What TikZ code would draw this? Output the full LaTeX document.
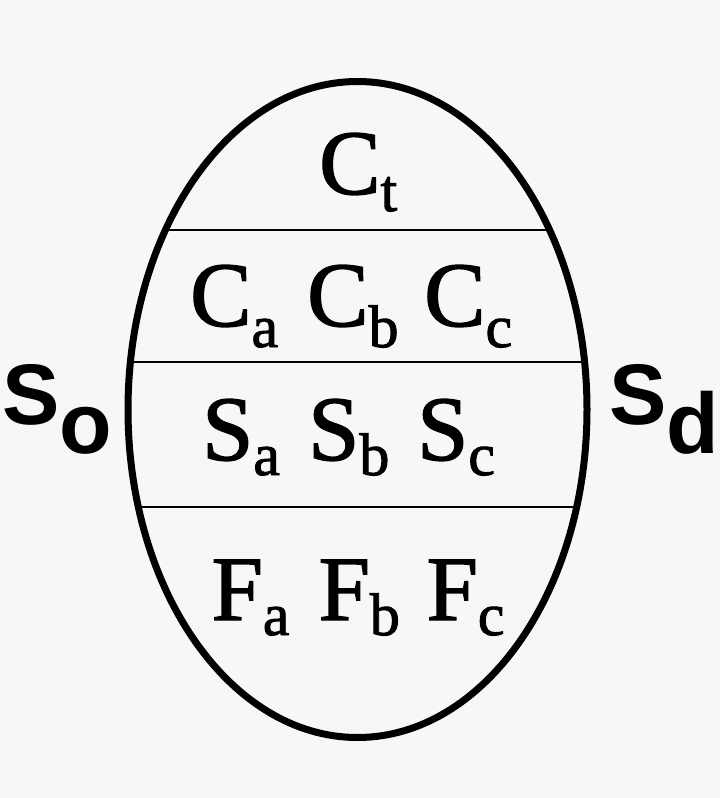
\documentclass[tikz,border=0pt]{standalone}
\usepackage{fontspec}
\setmainfont[FakeBold=1.6]{Liberation Serif}
\newfontfamily\labsans{Liberation Sans}
\newcommand\msub[3]{#1\lower#3pt\hbox{\fontsize{60}{60}\selectfont #2}}
\newcommand\ssub[2]{#1\lower29pt\hbox{#2}}
\begin{document}
\begin{tikzpicture}[x=1pt,y=-1pt,
  cell/.style={anchor=base west,inner sep=0pt,font=\fontsize{92}{92}\selectfont},
  side/.style={anchor=base west,inner sep=0pt,font=\labsans\bfseries\fontsize{86}{86}\selectfont},
  divider/.style={line width=2.5pt},
  egg/.style={line width=7pt}]
\fill[black!3] (0,0) rectangle (720,798);
\useasboundingbox (0,0) rectangle (720,798);
\begin{scope}
  \clip (357.5,409.5) ellipse [x radius=229.5, y radius=328];
  \draw[divider] (100,230) -- (620,230);
  \draw[divider] (100,362) -- (620,362);
  \draw[divider] (100,507) -- (620,507);
\end{scope}
\draw[egg] (357.5,409.5) ellipse [x radius=229.5, y radius=328];
% top
\node[cell] (ct) at (319,194) {\msub{C}{t}{17}};
% C row
\node[cell] (ca) at (190,326) {\msub{C}{a}{21}};
\node[cell] (cb) at (307,326) {\msub{C}{b}{21}};
\node[cell] (cc) at (424,326) {\msub{C}{c}{21}};
% S row
\node[cell] (sa) at (202,460) {\msub{S}{a}{15}};
\node[cell] (sb) at (308,460) {\msub{S}{b}{15}};
\node[cell] (sc) at (417,460) {\msub{S}{c}{15}};
% F row
\node[cell] (fa) at (211.5,620) {\msub{F}{a}{15}};
\node[cell] (fb) at (318.5,620) {\msub{F}{b}{15}};
\node[cell] (fc) at (426.5,620) {\msub{F}{c}{15}};
% sides
\node[side] (so) at (2,424) {\ssub{S}{o}};
\node[side] (sd) at (609,424) {\ssub{S}{d}};
\end{tikzpicture}
\end{document}
